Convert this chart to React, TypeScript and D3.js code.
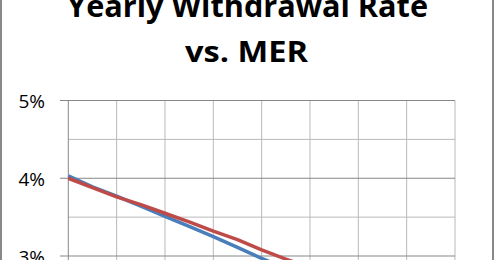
import React from "react";
import * as d3 from "d3";

const mer = [0, 0.125, 0.25, 0.375, 0.5, 0.625, 0.75, 0.875, 1.0, 1.125, 1.25];
const seriesBlue = [4.03, 3.89, 3.77, 3.64, 3.51, 3.38, 3.25, 3.11, 2.97, 2.84, 2.71];
const seriesRed = [4.0, 3.88, 3.76, 3.66, 3.55, 3.44, 3.32, 3.21, 3.08, 2.96, 2.85];
const yTicks = [5, 4, 3, 2];
const yMinor = [4.5, 3.5, 2.5];
const xGrid = [0, 0.25, 0.5, 0.75, 1.0, 1.25, 1.5, 1.75, 2.0];
const titleLines = ["Yearly Withdrawal Rate", "vs. MER"];

export default function App() {
  const W = 494, H = 260;
  const left = 68.3, right = 455;
  const x = d3.scaleLinear().domain([0, 2]).range([left, right]);
  const y = d3.scaleLinear().domain([5, 3]).range([100.5, 256]);
  const line = d3.line<number>().x((_, i) => x(mer[i])).y(d => y(d));
  const bottom = y(2);
  const font = "'Open Sans', sans-serif";
  return (
    <svg width={W} height={H} style={{ position: "absolute", left: 0, top: 0, background: "#fff" }}>
      <rect x={0} y={0} width={W} height={H} fill="#fff" />
      {/* title */}
      <text x={247.5} y={17} textAnchor="middle" fontFamily={font} fontWeight="bold" fontSize={30}
        textLength={361} lengthAdjust="spacingAndGlyphs" fill="#000">{titleLines[0]}</text>
      <text x={246.5} y={62} textAnchor="middle" fontFamily={font} fontWeight="bold" fontSize={29}
        textLength={123} lengthAdjust="spacingAndGlyphs" fill="#000">{titleLines[1]}</text>
      {/* minor horizontal gridlines */}
      {yMinor.map(v => (
        <line key={"m" + v} x1={left} x2={right} y1={y(v)} y2={y(v)} stroke="#b9b9b9" strokeWidth={1} />
      ))}
      {/* vertical gridlines */}
      {xGrid.slice(1).map(v => (
        <line key={"v" + v} x1={x(v)} x2={x(v)} y1={y(5)} y2={bottom} stroke="#b9b9b9" strokeWidth={1} />
      ))}
      {/* major horizontal gridlines */}
      {yTicks.map(v => (
        <line key={"M" + v} x1={60} x2={right} y1={y(v)} y2={y(v)} stroke="#878787" strokeWidth={1} />
      ))}
      {/* y axis */}
      <line x1={left} x2={left} y1={y(5)} y2={bottom} stroke="#878787" strokeWidth={1} />
      {yTicks.map(v => (
        <text key={"t" + v} x={45} y={y(v) + 7.5} textAnchor="end" fontFamily={font} fontSize={19} fill="#000">{v}%</text>
      ))}
      {/* series */}
      <path d={line(seriesBlue) || ""} fill="none" stroke="#4a7ebb" strokeWidth={3.5} strokeLinejoin="round" />
      <path d={line(seriesRed) || ""} fill="none" stroke="#be4b48" strokeWidth={3.5} strokeLinejoin="round" />
      {/* chart border */}
      <rect x={1} y={-2} width={W - 2} height={H + 4} fill="none" stroke="#888" strokeWidth={2} />
    </svg>
  );
}
